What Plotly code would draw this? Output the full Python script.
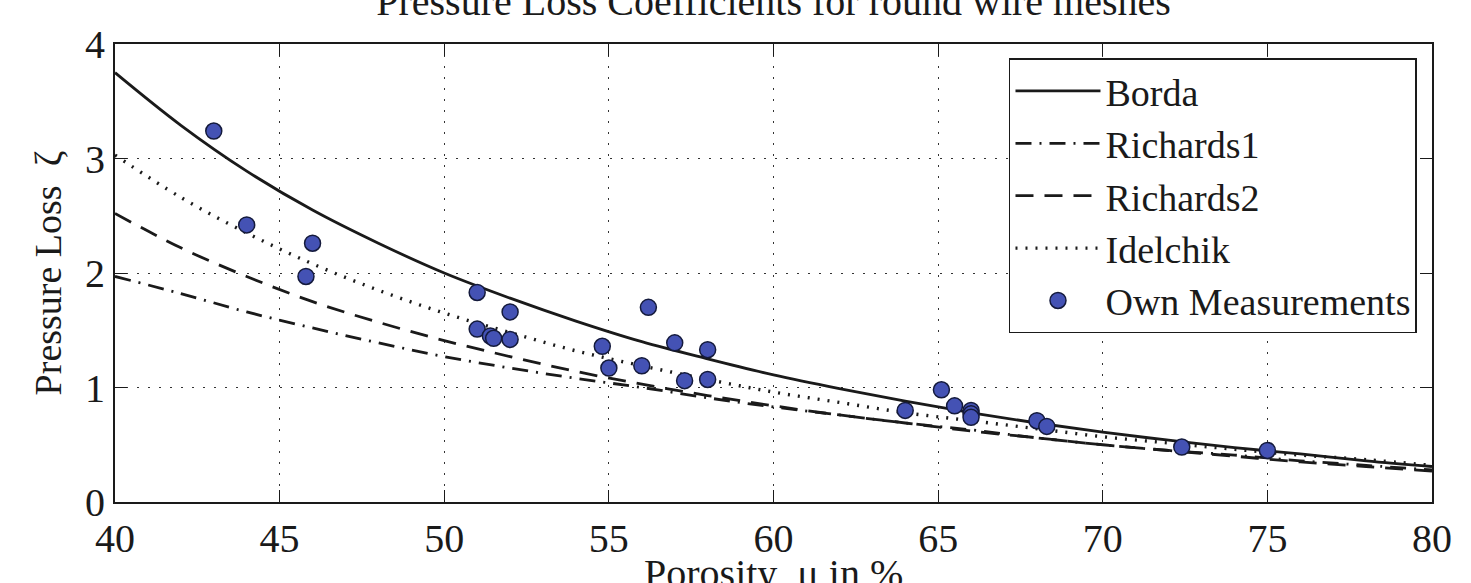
import plotly.graph_objects as go

# ---- data ----
porosity_curve = [40, 42, 44, 46, 48, 50, 52, 54, 56, 58, 60, 62, 64, 66, 68, 70, 72, 74, 76, 78, 80]
borda = [3.75, 3.29, 2.89, 2.55, 2.26, 2.00, 1.78, 1.58, 1.40, 1.25, 1.11, 0.99, 0.88, 0.78, 0.69, 0.61, 0.54, 0.475, 0.42, 0.36, 0.31]
richards1 = [1.97, 1.82, 1.66, 1.52, 1.39, 1.27, 1.17, 1.08, 1.00, 0.91, 0.83, 0.76, 0.69, 0.63, 0.56, 0.50, 0.45, 0.41, 0.36, 0.32, 0.28]
richards2 = [2.52, 2.22, 1.97, 1.75, 1.57, 1.41, 1.27, 1.14, 1.03, 0.93, 0.84, 0.76, 0.69, 0.62, 0.56, 0.50, 0.45, 0.40, 0.35, 0.31, 0.27]
idelchik = [3.03, 2.66, 2.35, 2.08, 1.85, 1.65, 1.48, 1.32, 1.19, 1.07, 0.96, 0.87, 0.78, 0.71, 0.64, 0.57, 0.515, 0.46, 0.41, 0.37, 0.32]

meas_x = [43.0, 44.0, 45.8, 46.0, 51.0, 51.0, 51.4, 51.5, 52.0, 52.0, 54.8, 55.0, 56.0, 56.2, 57.0, 57.3, 58.0, 58.0,
          64.0, 65.1, 65.5, 66.0, 66.0, 66.0, 68.0, 68.3, 72.4, 75.0]
meas_y = [3.24, 2.42, 1.97, 2.26, 1.83, 1.51, 1.45, 1.43, 1.66, 1.42, 1.36, 1.17, 1.19, 1.70, 1.39, 1.06, 1.33, 1.07,
          0.80, 0.98, 0.84, 0.80, 0.77, 0.74, 0.71, 0.66, 0.48, 0.45]

x_ticks = [40, 45, 50, 55, 60, 65, 70, 75, 80]
y_ticks = [0, 1, 2, 3, 4]

FONT = "Liberation Serif"
INK = "#1a1a1a"

fig = go.Figure()
fig.add_trace(go.Scatter(x=porosity_curve, y=borda, mode="lines", name="Borda",
                         line=dict(color=INK, width=2.8, shape="spline")))
fig.add_trace(go.Scatter(x=porosity_curve, y=richards1, mode="lines", name="Richards1",
                         line=dict(color=INK, width=2.8, dash="16px,8px,2px,8px", shape="spline")))
fig.add_trace(go.Scatter(x=porosity_curve, y=richards2, mode="lines", name="Richards2",
                         line=dict(color=INK, width=2.8, dash="18px,11px", shape="spline")))
fig.add_trace(go.Scatter(x=porosity_curve, y=idelchik, mode="lines", name="Idelchik",
                         line=dict(color=INK, width=3.4, dash="2px,8px", shape="spline")))
fig.add_trace(go.Scatter(x=meas_x, y=meas_y, mode="markers", name="Own Measurements",
                         marker=dict(symbol="circle", size=16, color="rgb(68,82,180)",
                                     line=dict(color="#141a3c", width=1.5))))

fig.update_layout(
    width=1471, height=583,
    margin=dict(l=115, r=39, t=44, b=81),
    paper_bgcolor="white", plot_bgcolor="white",
    font=dict(family=FONT, size=40, color=INK),
    title=dict(text="Pressure Loss Coefficients for round wire meshes",
               x=0.5, xref="paper", xanchor="center",
               y=0.998, yref="container", yanchor="middle",
               font=dict(family=FONT, size=40, color=INK)),
    showlegend=True,
    legend=dict(x=0.9886, y=0.969, xanchor="right", yanchor="top",
                bgcolor="white", bordercolor=INK, borderwidth=1.5,
                font=dict(family=FONT, size=38, color=INK),
                itemwidth=85, tracegroupgap=0),
    annotations=[dict(text="Porosity  μ in %", xref="paper", yref="paper",
                      x=0.5, y=-0.103, xanchor="center", yanchor="top", showarrow=False,
                      font=dict(family=FONT, size=40, color=INK))],
)

fig.update_xaxes(range=[40, 80], tickmode="array", tickvals=x_ticks, automargin=False,
                 ticks="inside", ticklen=12, tickwidth=1.2, tickcolor=INK,
                 showline=True, linecolor=INK, linewidth=2, mirror="ticks",
                 showgrid=True, gridcolor="#333333", gridwidth=1, griddash="2px,9px",
                 zeroline=False,
                 tickfont=dict(family=FONT, size=40, color=INK))
fig.update_yaxes(range=[0, 4], tickmode="array", tickvals=y_ticks, automargin=False,
                 ticks="inside", ticklen=12, tickwidth=1.2, tickcolor=INK,
                 showline=True, linecolor=INK, linewidth=2, mirror="ticks",
                 showgrid=True, gridcolor="#333333", gridwidth=1, griddash="2px,9px",
                 zeroline=False,
                 tickfont=dict(family=FONT, size=40, color=INK),
                 title=dict(text="Pressure Loss  ζ", standoff=12,
                            font=dict(family=FONT, size=38, color=INK)))

fig.write_html("out.html")
